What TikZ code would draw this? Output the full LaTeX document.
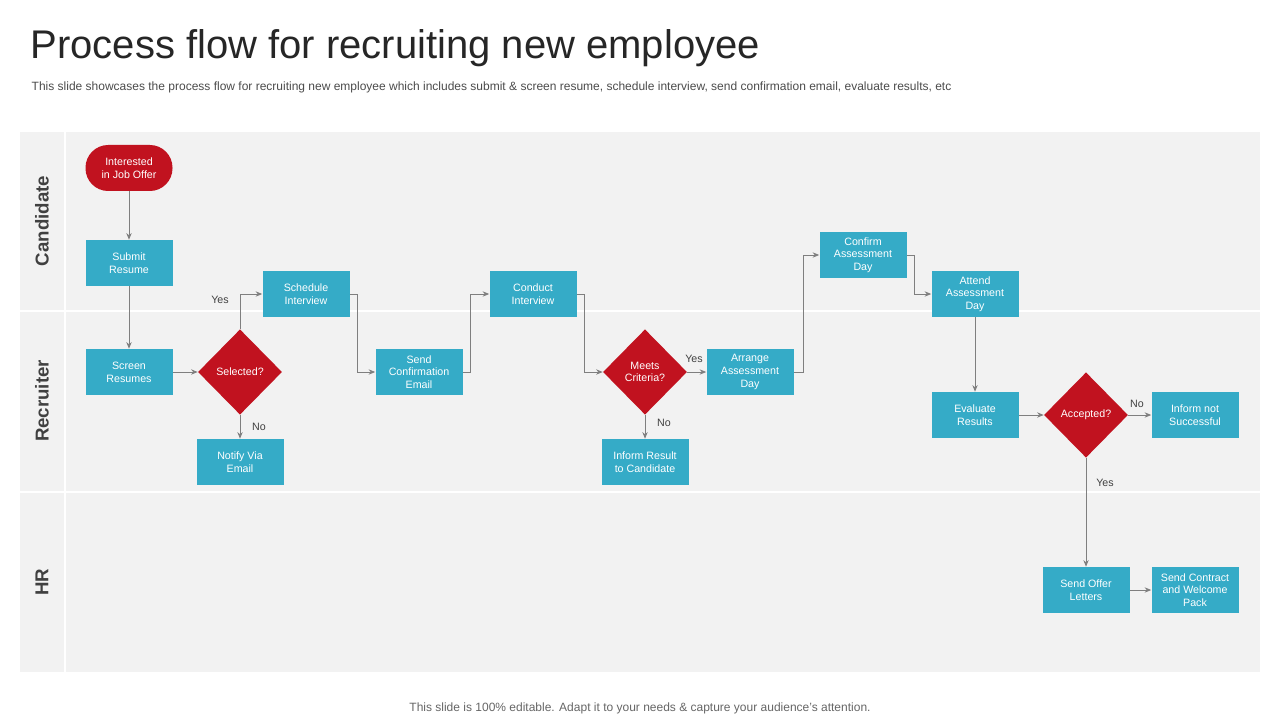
\documentclass[tikz,border=0pt]{standalone}
\usepackage{fontspec}
\setmainfont{Liberation Sans}
\usetikzlibrary{shapes.geometric,arrows.meta}
\definecolor{teal}{HTML}{35ABC7}
\definecolor{redd}{HTML}{C1121F}
\definecolor{panel}{HTML}{F2F2F2}
\definecolor{conn}{HTML}{7F7F7F}
\tikzset{
 box/.style={fill=teal,text=white,minimum width=65.25pt,minimum height=34.5pt,align=center,font=\fontsize{8}{9.5}\selectfont,inner sep=1pt},
 term/.style={box,fill=redd,rounded corners=17pt},
 dia/.style={diamond,fill=redd,text=white,minimum width=63pt,minimum height=64pt,inner sep=0pt,align=center,font=\fontsize{8}{9.5}\selectfont},
 arr/.style={draw=conn,line width=0.6pt,-{Stealth[length=5pt,width=4pt]}},
 lbl/.style={font=\fontsize{8}{9.5}\selectfont,text=black!75},
 lane/.style={rotate=90,font=\fontsize{14}{16}\selectfont\bfseries,text=black!75}
}
\begin{document}
\begin{tikzpicture}[x=0.75pt,y=-0.75pt]
\path[fill=white] (0,0) rectangle (1280,720);
\useasboundingbox (0,0) rectangle (1280,720);
\fill[panel] (20,132) rectangle (1260,672);
\draw[white,line width=1pt] (20,311) -- (1260,311) (20,492) -- (1260,492) (65,132) -- (65,672);
\node[anchor=west,font=\fontsize{30}{33}\selectfont,text=black!85] (title) at (26,48) {Process flow for recruiting new employee};
\node[anchor=west,font=\fontsize{9}{11}\selectfont,text=black!70] (sub) at (27,87) {This slide showcases the process flow for recruiting new employee which includes submit \& screen resume, schedule interview, send confirmation email, evaluate results, etc};
\node[font=\fontsize{9}{11}\selectfont,text=black!60] (foot) at (640,708) {This slide is 100\% editable. Adapt it to your needs \& capture your audience’s attention.};
\node[lane] (l1) at (42,221) {Candidate};
\node[lane] (l2) at (42,401) {Recruiter};
\node[lane] (l3) at (42,582) {HR};
\node[term] (int) at (129,168) {Interested\\in Job Offer};
\node[box] (sub1) at (129,263) {Submit\\Resume};
\node[box] (scr) at (129,372) {Screen\\Resumes};
\node[dia] (sel) at (240,372) {Selected?};
\node[box] (not) at (240,462) {Notify Via\\Email};
\node[box] (sch) at (306,294) {Schedule\\Interview};
\node[box] (sce) at (419,372) {Send\\Confirmation\\Email};
\node[box] (con) at (533,294) {Conduct\\Interview};
\node[dia] (mc) at (645,372) {Meets\\Criteria?};
\node[box] (inf) at (645,462) {Inform Result\\to Candidate};
\node[box] (arr) at (750,372) {Arrange\\Assessment\\Day};
\node[box] (cad) at (863,255) {Confirm\\Assessment\\Day};
\node[box] (att) at (975,294) {Attend\\Assessment\\Day};
\node[box] (ev) at (975,415) {Evaluate\\Results};
\node[dia] (acc) at (1086,415) {Accepted?};
\node[box] (ins) at (1195,415) {Inform not\\Successful};
\node[box] (sol) at (1086,590) {Send Offer\\Letters};
\node[box] (scw) at (1195,590) {Send Contract\\and Welcome\\Pack};
\draw[arr] (int) -- (sub1);
\draw[arr] (sub1) -- (scr);
\draw[arr] (scr) -- (sel);
\draw[arr] (sel.north) |- (sch.west);
\draw[arr] (sel) -- (not);
\draw[arr] (sch.east) -- ++(8,0) |- (sce.west);
\draw[arr] (sce.east) -- ++(8,0) |- (con.west);
\draw[arr] (con.east) -- ++(8,0) |- (mc.west);
\draw[arr] (mc) -- (arr);
\draw[arr] (mc) -- (inf);
\draw[arr] (arr.east) -- ++(10,0) |- (cad.west);
\draw[arr] (cad.east) -- ++(8,0) |- (att.west);
\draw[arr] (att) -- (ev);
\draw[arr] (ev) -- (acc);
\draw[arr] (acc) -- (ins);
\draw[arr] (acc) -- (sol);
\draw[arr] (sol) -- (scw);
\node[lbl] (y1) at (220,300) {Yes};
\node[lbl] (n1) at (259,427) {No};
\node[lbl] (y2) at (694,359) {Yes};
\node[lbl] (n2) at (664,423) {No};
\node[lbl] (n3) at (1137,404) {No};
\node[lbl] (y3) at (1105,483) {Yes};
\end{tikzpicture}
\end{document}
